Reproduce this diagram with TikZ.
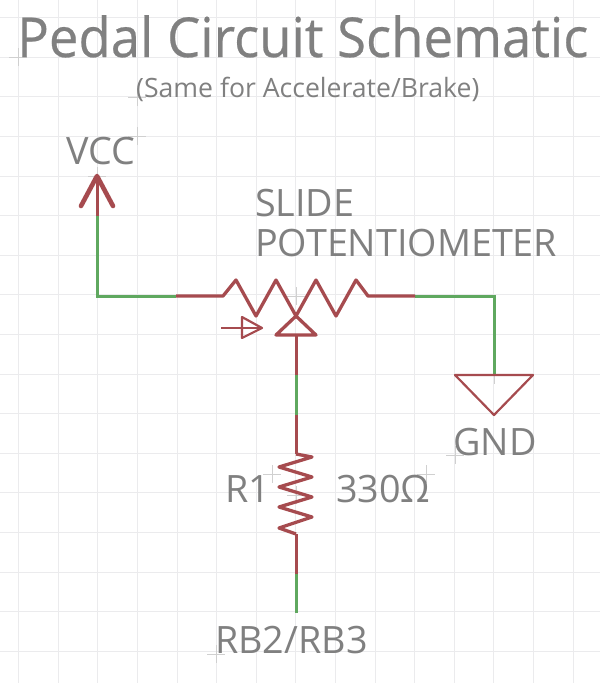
\documentclass[tikz,border=0pt]{standalone}
\usepackage{fontspec}
\setmainfont{Open Sans}
\newfontfamily\titlefont[FakeStretch=0.958,FakeBold=0.4]{Open Sans}
\definecolor{symbolred}{HTML}{A64B4F}
\definecolor{wiregreen}{HTML}{5FA85F}
\definecolor{labelgray}{HTML}{808080}
\definecolor{gridgray}{HTML}{EBEBED}
\definecolor{crossgray}{HTML}{D0D0D0}
\begin{document}
\begin{tikzpicture}[
    x=1pt,y=-1pt,
    wire/.style={
      draw=wiregreen,line width=3pt
    },
    symbol/.style={
      draw=symbolred,line width=3pt
    },
    bigsymbol/.style={
      symbol,line width=4.6pt,line cap=round,line join=round
    },
    midsymbol/.style={
      symbol,line width=3.3pt,line join=round
    },
    thinsymbol/.style={
      symbol,line width=2.2pt,line join=round
    },
    schlabel/.style={
      anchor=base west,inner sep=0pt,text=labelgray,font=\fontsize{37.7}{37.7}\selectfont
    },
    origin/.style={
      draw=crossgray,line width=.7pt
    }]

      \useasboundingbox (0,0) rectangle (600,683);
      \fill[white] (0,0) rectangle (600,683);

      % grid
      \foreach \pos in {17.5,57.1,96.7,136.3,175.9,215.5,255.1,294.7,334.3,373.9,413.5,453.1,492.7,532.3,571.9} {
        \draw[gridgray,line width=.8pt] (\pos+1,0) -- (\pos+1,683);
      }
      \foreach \pos in {17.5,57.1,96.7,136.3,175.9,215.5,255.1,294.7,334.3,373.9,413.5,453.1,492.7,532.3,571.9,611.5,651.1} {
        \draw[gridgray,line width=.8pt] (0,\pos) -- (600,\pos);
      }

      % text origins
      \foreach \cx/\cy in {18/57,137/97,137/136,97/176,296/296,494/375,272/474,426/474,455/455,216/654,296/495} {
        \draw[origin] (\cx-9,\cy) -- (\cx+9,\cy);
        \draw[origin] (\cx,\cy-9) -- (\cx,\cy+9);
      }

      \coordinate (vcc) at (97,176);
      \coordinate (vccend) at (97,216);
      \coordinate (corner1) at (97,296);
      \coordinate (potleft) at (176,296);
      \coordinate (potright) at (415,296);
      \coordinate (corner2) at (494,296);
      \coordinate (gnd) at (494,375);
      \coordinate (wiper) at (296,335);
      \coordinate (wiperend) at (296,375);
      \coordinate (r1top) at (296,415);
      \coordinate (r1bot) at (296,574);
      \coordinate (rb) at (296,613);

      % wires
      \draw[wire] (vccend) -- (corner1) -- (potleft);
      \draw[wire] (potright) -- (corner2) -- (gnd);
      \draw[wire] (wiperend) -- (r1top);
      \draw[wire] (r1bot) -- (rb);

      % VCC
      \draw[bigsymbol] (81,206) -- (vcc) -- (113,206);
      \draw[symbol] (vcc) -- (vccend);

      % potentiometer
      \draw[midsymbol] (potleft) -- (223,296) -- (236,280) -- (256,316) -- (276,280)
        -- (296,316) -- (316,280) -- (336,316) -- (356,280) -- (368,296) -- (potright);
      \draw[midsymbol] (296,316) -- (316,335) -- (276,335) -- cycle;
      \draw[symbol] (wiper) -- (wiperend);
      \draw[thinsymbol] (221,328) -- (262,328);
      \draw[thinsymbol] (242,317) -- (262,328) -- (242,338) -- cycle;

      % GND
      \draw[thinsymbol] (455,375) -- (533,375) -- (494,415) -- cycle;

      % R1
      \draw[symbol] (r1top) -- (296,454);
      \draw[midsymbol] (296,454) -- (312,457) -- (279,467) -- (312,477) -- (279,487) -- (312,497)
        -- (279,507) -- (312,517) -- (279,528) -- (296,534);
      \draw[symbol] (296,534) -- (r1bot);

      % labels
      \node[schlabel,font=\titlefont\fontsize{55}{55}\selectfont] (title) at (17,57) {Pedal Circuit Schematic};
      \node[schlabel,font=\fontsize{26.6}{26.6}\selectfont] (subtitle) at (136,97) {(Same for Accelerate/Brake)};
      \node[schlabel] (vcclabel) at (66,164) {VCC};
      \node[schlabel] (slide) at (255,216) {SLIDE};
      \node[schlabel] (pot) at (255,256) {POTENTIOMETER};
      \node[schlabel] (gndlabel) at (453,455) {GND};
      \node[schlabel] (r1label) at (225,502) {R1};
      \node[schlabel] (r1value) at (336,502) {330Ω};
      \node[schlabel] (rblabel) at (215,653) {RB2/RB3};
  \end{tikzpicture}
\end{document}
